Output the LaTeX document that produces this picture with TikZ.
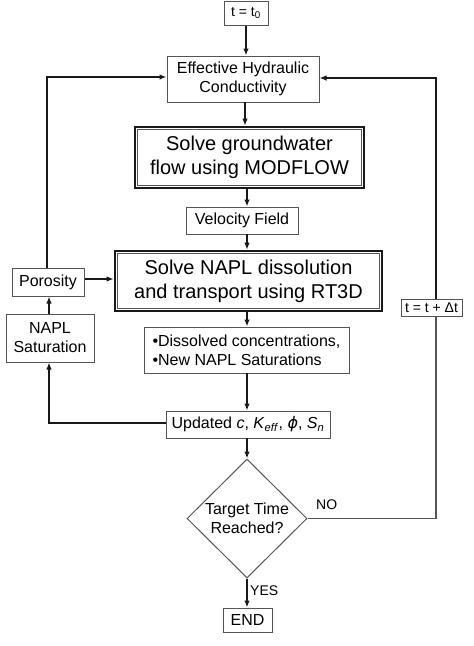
\documentclass[tikz,border=0pt]{standalone}
\usepackage{fontspec}
\setmainfont{Liberation Sans}
\newfontfamily\dejavu{DejaVu Sans}
\usetikzlibrary{shapes.geometric,arrows.meta}
\definecolor{boxgray}{RGB}{85,85,85}
\definecolor{linecol}{RGB}{25,25,25}
\newcommand\fsz[2]{\fontsize{#1}{#2}\selectfont}
\begin{document}
\begin{tikzpicture}[x=1pt,y=-1pt,
  box/.style={draw=boxgray, line width=1pt, fill=white, inner sep=0pt, align=center, font=\fsz{16}{19}},
  bigbox/.style={draw=linecol, line width=2.6pt, fill=white, inner sep=0pt, align=center, font=\fsz{20}{24}},
  arr/.style={draw=linecol, line width=1.3pt, -{Latex[length=7pt,width=5.5pt]}},
  ln/.style={draw=boxgray, line width=1.2pt},
  lbl/.style={inner sep=0pt, font=\fsz{14}{17}}]
\useasboundingbox (0,0) rectangle (474,646);
% nodes
\node[box, minimum width=44pt, minimum height=24pt, font=\fsz{14}{17}] (t0) at (246,13) {t = t\textsubscript{0}};
\node[box, minimum width=152pt, minimum height=46pt] (ehc) at (243,79) {Effective Hydraulic\\Conductivity};
\node[bigbox, minimum width=229pt, minimum height=61pt] (mod) at (249.5,157.5) {Solve groundwater\\flow using MODFLOW};
\node[box, minimum width=112pt, minimum height=27pt] (vel) at (242,220.5) {Velocity Field};
\node[bigbox, minimum width=267pt, minimum height=60pt] (rt) at (248.5,281) {Solve NAPL dissolution\\and transport using RT3D};
\node[box, minimum width=72pt, minimum height=28pt] (por) at (48,282) {Porosity};
\node[box, minimum width=88pt, minimum height=48pt] (napl) at (50,338) {NAPL\\Saturation};
\node[box, minimum width=205pt, minimum height=46pt, align=left] (diss) at (246.5,350) {•Dissolved concentrations,\\•New NAPL Saturations};
\node[box, minimum width=164pt, minimum height=27pt] (upd) at (248,424.5) {Updated \textit{c}, \textit{K}\textsubscript{\textit{eff}}, {\dejavu\itshape ϕ}, \textit{S}\textsubscript{\textit{n}}};
\node[box, minimum width=61pt, minimum height=17pt, font=\fsz{14}{17}] (dt) at (431.5,307.5) {t = t + Δt};
\node[box, diamond, aspect=1, minimum width=120pt, minimum height=119pt] (dia) at (247,518.5) {Target Time\\Reached?};
\node[box, minimum width=49pt, minimum height=24pt] (end) at (247.5,620) {END};
% inner borders of the double boxes
\draw[boxgray, line width=0.8pt] ([shift={(3.5pt,-3.5pt)}]mod.north west) rectangle ([shift={(-3.5pt,3.5pt)}]mod.south east);
\draw[boxgray, line width=0.8pt] ([shift={(3.5pt,-3.5pt)}]rt.north west) rectangle ([shift={(-3.5pt,3.5pt)}]rt.south east);
% labels
\node[lbl, anchor=west] (no) at (316,505) {NO};
\node[lbl, anchor=west] (yes) at (250,591) {YES};
% main column
\draw[arr] (t0.south) -- (t0.south |- ehc.north);
\draw[arr] (245,102) coordinate (a1) -- (a1 |- mod.north);
\draw[arr] (247,188) coordinate (a2) -- (a2 |- vel.north);
\draw[arr] (247,234) coordinate (a3) -- (a3 |- rt.north);
\draw[arr] (247,311) coordinate (a4) -- (a4 |- diss.north);
\draw[arr] (247,373) coordinate (a5) -- (a5 |- upd.north);
\draw[arr] (247,438) coordinate (a6) -- (a6 |- dia.north);
\draw[arr] (dia.south) -- (dia.south |- end.north);
% left loop
\coordinate (lb) at (49,423);
\draw[arr] (upd.west |- lb) -- (lb) -- (lb |- napl.south);
\draw[arr] (napl.north -| lb) -- (lb |- por.south);
\draw[arr] (por.east |- 0,279) -- (rt.west |- 0,279);
\coordinate (lt) at (47,77);
\draw[arr] (lt |- por.north) -- (lt) -- (lt -| ehc.west);
% right loop
\coordinate (rb) at (436,518.5);
\draw[ln] (dia.east) -- (rb) -- (rb |- dt.south);
\coordinate (rt2) at (436,78);
\draw[arr] (rt2 |- dt.north) -- (rt2) -- (rt2 -| ehc.east);
\end{tikzpicture}
\end{document}
